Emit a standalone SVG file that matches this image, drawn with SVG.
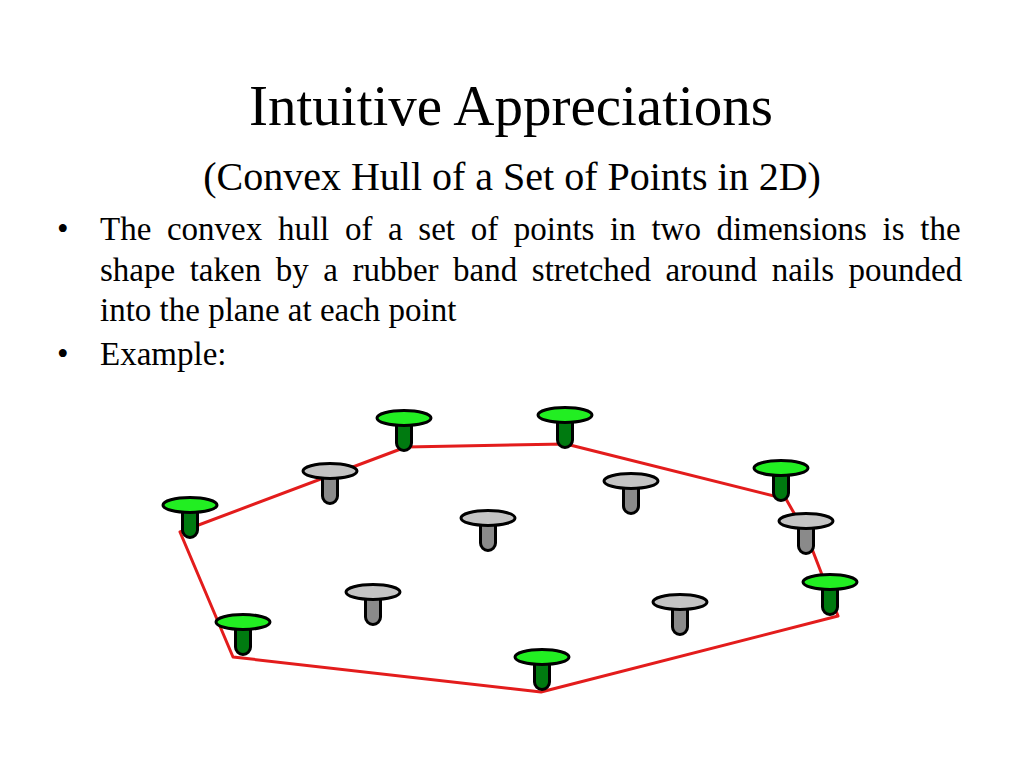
<svg xmlns="http://www.w3.org/2000/svg" xmlns:xlink="http://www.w3.org/1999/xlink" width="1024" height="768" viewBox="0 0 1024 768">
<style>
  text { font-family: "Liberation Serif", "Times New Roman", serif; fill: #000; }
  .title { font-size: 57px; text-anchor: middle; }
  .subtitle { font-size: 40px; text-anchor: middle; }
  .body { font-size: 33px; }
  .hull { fill: none; stroke: #e31c1c; stroke-width: 3; stroke-linejoin: round; }
</style>
<defs>
  <g id="greenNail">
    <path d="M-7.5,0 V25 A7.5,7.5 0 0 0 7.5,25 V0 Z" fill="#007a10" stroke="#000" stroke-width="3"/>
    <ellipse cx="0" cy="0" rx="27" ry="7.5" fill="#22ee22" stroke="#000" stroke-width="3"/>
  </g>
  <g id="grayNail">
    <path d="M-7.5,0 V25 A7.5,7.5 0 0 0 7.5,25 V0 Z" fill="#8a8a8a" stroke="#000" stroke-width="3"/>
    <ellipse cx="0" cy="0" rx="27" ry="7.5" fill="#c4c4c4" stroke="#000" stroke-width="3"/>
  </g>
</defs>
<rect width="1024" height="768" fill="#fff"/>

<text class="title" x="511" y="125">Intuitive Appreciations</text>
<text class="subtitle" x="512" y="190">(Convex Hull of a Set of Points in 2D)</text>

<text class="body" x="57" y="240">•</text>
<text class="body" x="100" y="240" word-spacing="7.4">The convex hull of a set of points in two dimensions is the</text>
<text class="body" x="100" y="281" word-spacing="6.3">shape taken by a rubber band stretched around nails pounded</text>
<text class="body" x="100" y="321">into the plane at each point</text>
<text class="body" x="57" y="365">•</text>
<text class="body" x="100" y="365">Example:</text>

<g id="connectors">
  <polygon class="hull" points="180,532 406,447 566,444 786,499 807,536 838,616 541,692 233,657"/>
</g>

<g id="nail-g1"><use xlink:href="#greenNail" x="190" y="505"/></g>
<g id="nail-g2"><use xlink:href="#greenNail" x="404" y="418"/></g>
<g id="nail-g3"><use xlink:href="#greenNail" x="565" y="415"/></g>
<g id="nail-g4"><use xlink:href="#greenNail" x="781" y="468"/></g>
<g id="nail-g5"><use xlink:href="#greenNail" x="830" y="582"/></g>
<g id="nail-g6"><use xlink:href="#greenNail" x="542" y="657"/></g>
<g id="nail-g7"><use xlink:href="#greenNail" x="243" y="622"/></g>

<g id="nail-a"><use xlink:href="#grayNail" x="330" y="471"/></g>
<g id="nail-b"><use xlink:href="#grayNail" x="631" y="481"/></g>
<g id="nail-c"><use xlink:href="#grayNail" x="806" y="521"/></g>
<g id="nail-d"><use xlink:href="#grayNail" x="488" y="518"/></g>
<g id="nail-e"><use xlink:href="#grayNail" x="373" y="592"/></g>
<g id="nail-f"><use xlink:href="#grayNail" x="680" y="602"/></g>
</svg>
